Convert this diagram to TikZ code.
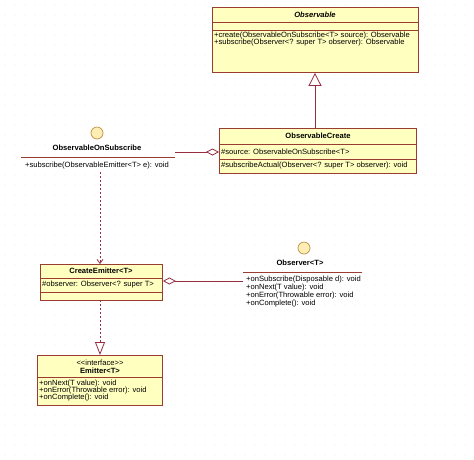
\documentclass[tikz,border=0pt]{standalone}
\usepackage{fontspec}
\setmainfont{Liberation Sans}
\usetikzlibrary{arrows.meta}
\definecolor{boxfill}{RGB}{255,255,192}
\definecolor{boxline}{RGB}{155,60,50}
\definecolor{conline}{RGB}{150,45,65}
\definecolor{ifill}{RGB}{255,238,180}
\definecolor{iline}{RGB}{190,145,65}
\definecolor{dotc}{RGB}{195,195,210}
\begin{document}
\begin{tikzpicture}[x=1pt,y=-1pt,
  font=\fontsize{7.6}{8}\selectfont,
  umlbox/.style={draw=boxline, fill=boxfill, line width=0.9pt, anchor=north west, inner sep=0pt},
  sepline/.style={draw=boxline, line width=0.9pt},
  mtext/.style={anchor=west, inner sep=0pt},
  ttext/.style={inner sep=0pt, font=\fontsize{7.6}{8}\selectfont\bfseries},
  iface/.style={circle, draw=iline, fill=ifill, line width=0.7pt, minimum size=12pt, inner sep=0pt},
  con/.style={draw=conline, line width=0.8pt},
  depline/.style={con, dash pattern=on 2pt off 2pt},
  agg/.style={-{Diamond[open, length=13pt, width=7pt, line width=0.8pt]}},
  gen/.style={-{Triangle[open, length=13pt, width=13pt, line width=0.8pt]}},
  real/.style={-{Triangle[open, length=13pt, width=10pt, line width=0.8pt]}},
  dep/.style={-{Straight Barb[length=4pt, width=6pt, line width=0.8pt]}}
]
\useasboundingbox (0,0) rectangle (474,459);
\fill[white] (0,0) rectangle (474,459);
\foreach \xx in {5,15,...,470} {
  \foreach \yy in {5,15,...,455} {
    \fill[dotc] (\xx,\yy) circle (0.4pt);
  }
}

% Observable
\node[umlbox, minimum width=206pt, minimum height=65pt] (obs) at (212,7) {};
\node[ttext, font=\fontsize{7.6}{8}\selectfont\bfseries\itshape] (obsname) at (315,15) {Observable};
\draw[sepline] (212,22) -- (418,22);
\draw[sepline] (212,30) -- (418,30);
\node[mtext] (obsm1) at (214,36) {+create(ObservableOnSubscribe<T> source): Observable};
\node[mtext] (obsm2) at (214,43) {+subscribe(Observer<? super T> observer): Observable};

% ObservableCreate
\node[umlbox, minimum width=197pt, minimum height=45pt] (oc) at (219,128) {};
\node[ttext] (ocname) at (318,136) {ObservableCreate};
\draw[sepline] (219,144) -- (416,144);
\draw[sepline] (219,159) -- (416,159);
\node[mtext] (oca1) at (221,152) {\#source: ObservableOnSubscribe<T>};
\node[mtext] (ocm1) at (221,166) {\#subscribeActual(Observer<? super T> observer): void};

% ObservableOnSubscribe (interface, lollipop style)
\node[iface] (oosi) at (97,133) {};
\node[ttext] (oosname) at (97,148) {ObservableOnSubscribe};
\draw[sepline] (21,157) -- (175,157);
\node[mtext] (oosm1) at (25,166) {+subscribe(ObservableEmitter<T> e): void};

% CreateEmitter
\node[umlbox, minimum width=122pt, minimum height=36pt] (ce) at (40,264) {};
\node[ttext] (cename) at (101,271) {CreateEmitter<T>};
\draw[sepline] (40,278) -- (162,278);
\draw[sepline] (40,292) -- (162,292);
\node[mtext] (cea1) at (42,285) {\#observer: Observer<? super T>};

% Observer
\node[iface] (obsi) at (304,248) {};
\node[ttext] (obsrname) at (300,263) {Observer<T>};
\draw[sepline] (243,272) -- (362,272);
\node[mtext] (obsrm1) at (246,280) {+onSubscribe(Disposable d): void};
\node[mtext] (obsrm2) at (246,288) {+onNext(T value): void};
\node[mtext] (obsrm3) at (246,296) {+onError(Throwable error): void};
\node[mtext] (obsrm4) at (246,304) {+onComplete(): void};

% Emitter
\node[umlbox, minimum width=125pt, minimum height=50pt] (em) at (37,355) {};
\node[inner sep=0pt] (emst) at (100,363) {<{}<interface>{}>};
\node[ttext] (emname) at (100,371) {Emitter<T>};
\draw[sepline] (37,377) -- (162,377);
\node[mtext] (emm1) at (39,384) {+onNext(T value): void};
\node[mtext] (emm2) at (39,391) {+onError(Throwable error): void};
\node[mtext] (emm3) at (39,398) {+onComplete(): void};

% connectors
\draw[con, gen] (oc.north -| obsname) -- (obs.south -| obsname);
\coordinate (oosend) at (175,152);
\draw[con, agg] (oosend) -- (oosend -| oc.west);
\coordinate (oosbot) at (100,172);
\draw[depline, dep] (oosbot) -- (oosbot |- ce.north);
\coordinate (obsrend) at (243,281);
\draw[con, agg] (obsrend) -- (obsrend -| ce.east);
\coordinate (cebot) at (100,300);
\draw[depline, real] (cebot) -- (cebot |- em.north);
\end{tikzpicture}
\end{document}
